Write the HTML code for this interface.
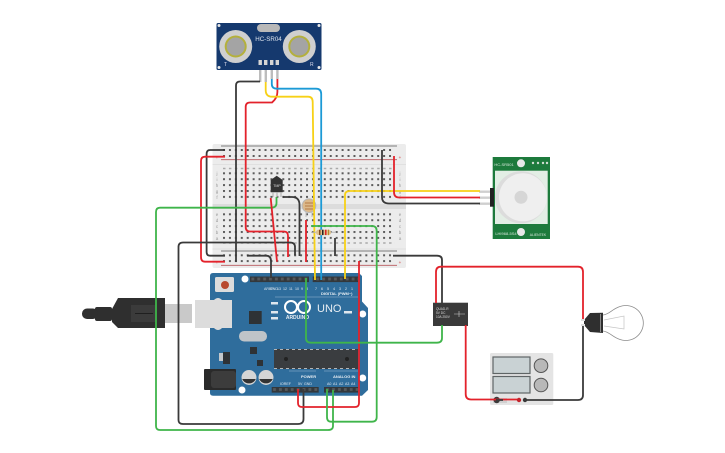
<!DOCTYPE html>
<html><head><meta charset="utf-8"><style>
html,body{margin:0;padding:0;background:#fff}
svg{display:block}
text{font-family:"Liberation Sans",sans-serif}
.w{fill:none;stroke-width:1.8;stroke-linejoin:round;stroke-linecap:butt}
.r{stroke:#e3222b}.k{stroke:#3a3a3a}.g{stroke:#3fb54a}.y{stroke:#f7d117}.b{stroke:#1c9ad6}
</style></head><body>
<svg width="725" height="453" viewBox="0 0 725 453" xmlns="http://www.w3.org/2000/svg">
<defs>
<pattern id="h1" x="222.500" y="171.800" width="5.930" height="5.900" patternUnits="userSpaceOnUse"><rect x=".5" y=".5" width="2" height="2" fill="#5c5c5c"/></pattern>
<pattern id="h2" x="222.500" y="212.800" width="5.930" height="5.900" patternUnits="userSpaceOnUse"><rect x=".5" y=".5" width="2" height="2" fill="#5c5c5c"/></pattern>
<pattern id="hr1" x="222.500" y="148.500" width="5.930" height="6" patternUnits="userSpaceOnUse"><rect x=".5" y=".5" width="2" height="2" fill="#5c5c5c"/></pattern>
<pattern id="hr2" x="222.500" y="253.800" width="5.930" height="5.800" patternUnits="userSpaceOnUse"><rect x=".5" y=".5" width="2" height="2" fill="#5c5c5c"/></pattern>
<pattern id="p" x="250" y="276" width="5.900" height="6" patternUnits="userSpaceOnUse"><rect x="1.400" y="1.600" width="2.800" height="2.800" fill="#55595c"/></pattern>
<pattern id="p2" x="271.700" y="386.500" width="5.900" height="6" patternUnits="userSpaceOnUse"><rect x="1.400" y="1.600" width="2.800" height="2.800" fill="#55595c"/></pattern>
</defs>

<!-- breadboard -->
<rect x="212.500" y="144" width="193.500" height="124" rx="2" fill="#ececec"/>
<rect x="212.500" y="204" width="193.500" height="5" fill="#dcdcdc"/>
<rect x="212.500" y="164" width="193.500" height="1" fill="#e0e0e0"/>
<rect x="212.500" y="248.500" width="193.500" height="1" fill="#e0e0e0"/>
<path d="M221 146H397M221 251H397" stroke="#555" stroke-width=".8"/>
<path d="M221 159.700H397M221 265.300H397" stroke="#b8575c" stroke-width=".8"/>
<rect x="222.500" y="148.500" width="172" height="10" fill="url(#hr1)"/>
<rect x="222.500" y="253.800" width="172" height="10" fill="url(#hr2)"/>
<rect x="222.500" y="171.800" width="172" height="28" fill="url(#h1)"/>
<rect x="222.500" y="212.800" width="172" height="28" fill="url(#h2)"/>
<path d="M223 168.500H395M223 243H395" stroke="#aaa" stroke-width="1.600" stroke-dasharray="2.500 3.430"/>
<g font-size="4.500" fill="#999" text-anchor="middle">
<text x="217" y="175">j</text><text x="217" y="181">i</text><text x="217" y="187">h</text><text x="217" y="193">g</text><text x="217" y="199">f</text>
<text x="217" y="216">e</text><text x="217" y="222">d</text><text x="217" y="228">c</text><text x="217" y="234">b</text><text x="217" y="240">a</text>
<text x="400" y="175">j</text><text x="400" y="181">i</text><text x="400" y="187">h</text><text x="400" y="193">g</text><text x="400" y="199">f</text>
<text x="400" y="216">e</text><text x="400" y="222">d</text><text x="400" y="228">c</text><text x="400" y="234">b</text><text x="400" y="240">a</text>
<text x="217" y="159" fill="#c33">+</text><text x="400" y="159" fill="#c33">+</text><text x="217" y="264" fill="#c33">+</text><text x="400" y="264" fill="#c33">+</text>
</g>

<!-- ultrasonic -->
<rect x="216.500" y="23" width="105" height="47" rx="1.500" fill="#15396e"/>
<g fill="#e8e8e8"><circle cx="219" cy="25.500" r="1.500"/><circle cx="319" cy="25.500" r="1.500"/><circle cx="219" cy="67.500" r="1.500"/><circle cx="319" cy="67.500" r="1.500"/></g>
<rect x="257" y="24" width="23" height="8" rx="4" fill="#b8b8b8"/>
<g>
<circle cx="235.700" cy="46.500" r="16.500" fill="#cfcfcf"/><circle cx="235.700" cy="46.500" r="11" fill="#b4b03c"/><circle cx="235.700" cy="46.500" r="9" fill="#a4a4a4"/>
<circle cx="299.300" cy="46.500" r="16.500" fill="#cfcfcf"/><circle cx="299.300" cy="46.500" r="11" fill="#b4b03c"/><circle cx="299.300" cy="46.500" r="9" fill="#a4a4a4"/>
</g>
<text x="268.500" y="41" font-size="6.200" fill="#dfe6ef" text-anchor="middle">HC-SR04</text>
<g fill="#d5d5d5"><rect x="258.500" y="60" width="3.400" height="5"/><rect x="264" y="60" width="3.400" height="5"/><rect x="270" y="60" width="3.400" height="5"/><rect x="275.600" y="60" width="3.400" height="5"/></g>
<g fill="#bcbcbc"><rect x="259" y="70" width="2.400" height="12"/><rect x="264.600" y="70" width="2.400" height="12"/><rect x="270.600" y="70" width="2.400" height="9"/><rect x="276.200" y="70" width="2.400" height="9"/></g>
<text x="224" y="66" font-size="5" fill="#dde">T</text><text x="310" y="66" font-size="5" fill="#dde">R</text>

<!-- usb cable -->
<rect x="164" y="304" width="28" height="19" fill="#c9c9c9"/>
<path d="M112 309L118 298H165V328H118L112 322Z" fill="#2f2f2f"/>
<rect x="95" y="307" width="17" height="14" rx="2" fill="#2f2f2f"/>
<rect x="82" y="308.500" width="16" height="10.500" rx="5" fill="#2f2f2f"/>
<rect x="131" y="305" width="24" height="17" fill="#3b3b3b"/>
<path d="M135 313.500h18" stroke="#1f1f1f" stroke-width="1"/>

<!-- arduino -->
<path d="M213 273H359L362 276V301.500L368 308V390L362 395.700H213Q210 395.700 210 393V276Q210 273 213 273Z" fill="#2f6d9c"/>
<path d="M195 300H214Q218 296 222 300H232V328H222Q218 332 214 328H195Z" fill="#dcdcdc"/>
<rect x="215" y="277" width="19" height="15" rx="1.500" fill="#dcdcdc"/><circle cx="225" cy="285" r="4" fill="#b8492e"/>
<circle cx="245" cy="279" r="3.500" fill="#fff"/><circle cx="362.700" cy="314" r="3.500" fill="#fff"/><circle cx="362.700" cy="378" r="3.500" fill="#fff"/><circle cx="242" cy="390" r="3.500" fill="#fff"/>
<rect x="250" y="276.500" width="59" height="5.600" fill="#33383c"/><rect x="250" y="276.500" width="59" height="5.600" fill="url(#p)"/>
<rect x="312.700" y="276.500" width="45.500" height="5.600" fill="#33383c"/><rect x="312.700" y="276.500" width="45.500" height="5.600" fill="url(#p)"/>
<rect x="271.700" y="387" width="47" height="5.600" fill="#33383c"/><rect x="271.700" y="387" width="47" height="5.600" fill="url(#p2)"/>
<rect x="324" y="387" width="34" height="5.600" fill="#33383c"/><rect x="324" y="387" width="34" height="5.600" fill="url(#p2)"/>
<rect x="249" y="311" width="12.700" height="13" fill="#2e3235"/>
<rect x="239" y="331" width="28" height="10.500" rx="5" fill="#bfc4c8"/>
<rect x="250" y="347" width="7" height="7" fill="#2e3235"/>
<rect x="219" y="353" width="5" height="8" fill="#c4c8cb"/><rect x="223" y="352" width="7" height="12" fill="#2e3235"/>
<rect x="257" y="360" width="6" height="6" fill="#2e3235"/>
<rect x="274" y="349" width="84" height="20" fill="#3a3d40"/>
<path d="M274 349.500H358M274 368.500H358" stroke="#ddd" stroke-width=".8" stroke-dasharray="3 3"/>
<circle cx="286" cy="359" r="2" fill="#222"/><circle cx="347" cy="359" r="2" fill="#222"/>
<rect x="204" y="369" width="32" height="21" rx="1" fill="#2a2a2a"/><rect x="211" y="371" width="25" height="17" rx="3" fill="#3c3c3c"/>
<circle cx="249" cy="377.500" r="7.500" fill="#d5d5d5"/><path d="M242.200 379A7.500 7.500 0 0 0 255.800 379Z" fill="#333"/>
<circle cx="266" cy="377.500" r="7.500" fill="#d5d5d5"/><path d="M259.200 379A7.500 7.500 0 0 0 272.800 379Z" fill="#333"/>
<g fill="none" stroke="#fff" stroke-width="2">
<circle cx="291" cy="307" r="6"/><circle cx="304" cy="307" r="6"/>
</g>
<text x="297.500" y="319" font-size="5" font-weight="bold" fill="#e8eef3" text-anchor="middle">ARDUINO</text>
<text x="317" y="312" font-size="11" fill="#e8eef3">UNO</text>
<text x="321" y="295" font-size="4" font-weight="bold" fill="#e8eef3">DIGITAL (PWM~)</text>
<text x="301" y="378" font-size="4" font-weight="bold" fill="#e8eef3">POWER</text>
<text x="333" y="378" font-size="4" font-weight="bold" fill="#e8eef3">ANALOG IN</text>
<path d="M275 297H358M289 371H316M324 371H358" stroke="#9dbcd2" stroke-width=".6"/>
<g fill="#dfe7ee"><rect x="271" y="311" width="7" height="2.500"/><rect x="271" y="317" width="7" height="2.500"/><rect x="271" y="302" width="7" height="2.500"/><rect x="344" y="311" width="8" height="2.500"/></g>
<g font-size="3.600" fill="#dfe7ee">
<text x="264" y="290">AREF</text><text x="270" y="290">GND</text>
<text x="277" y="290">13</text><text x="283" y="290">12</text><text x="289" y="290">11</text><text x="295" y="290">10</text><text x="301" y="290">9</text><text x="306" y="290">8</text>
<text x="315" y="290">7</text><text x="321" y="290">6</text><text x="327" y="290">5</text><text x="333" y="290">4</text><text x="339" y="290">3</text><text x="345" y="290">2</text><text x="351" y="290">1</text>
<text x="280" y="385">IOREF</text><text x="298" y="385">5V</text><text x="304" y="385">GND</text>
<text x="327" y="385">A0</text><text x="333" y="385">A1</text><text x="339" y="385">A2</text><text x="345" y="385">A3</text><text x="351" y="385">A4</text>
</g>

<!-- PIR -->
<rect x="492.700" y="157" width="57.300" height="82" fill="#1d7a3c"/>
<rect x="495" y="170.700" width="52.700" height="53.300" fill="#e3eee5"/>
<circle cx="521" cy="197.300" r="26" fill="#dcdcdc"/>
<circle cx="523" cy="197.300" r="24" fill="#efefef"/><circle cx="521" cy="197.300" r="6.500" fill="#d6d6d6"/>
<rect x="490" y="188" width="4" height="18.700" fill="#222"/>
<circle cx="521" cy="163.300" r="4" fill="#e8e8e8"/><circle cx="521" cy="232" r="4" fill="#e8e8e8"/>
<text x="504" y="166" font-size="4" fill="#d8e8dc" text-anchor="middle">HC-SR501</text>
<text x="506" y="235" font-size="4" fill="#d8e8dc" text-anchor="middle">LHI968-5S4</text>
<text x="538" y="236" font-size="3.400" fill="#d8e8dc" text-anchor="middle">ALIENTEK</text>
<g fill="#d0dcd2"><circle cx="533" cy="163" r="1.200"/><circle cx="538" cy="163" r="1.200"/><circle cx="543" cy="163" r="1.200"/><circle cx="547" cy="163" r="1.200"/></g>
<g fill="#cfcfcf"><rect x="479" y="190.500" width="11" height="2.400"/><rect x="479" y="196.500" width="11" height="2.400"/><rect x="479" y="202.500" width="11" height="2.400"/></g>

<!-- power supply -->
<rect x="490" y="353" width="63.300" height="52" rx="1.500" fill="#e4e4e4"/>
<rect x="493" y="357" width="37" height="16.500" fill="#c9d2d4" stroke="#5f6566" stroke-width="1.200"/>
<rect x="493" y="376.500" width="37" height="16.500" fill="#c9d2d4" stroke="#5f6566" stroke-width="1.200"/>
<circle cx="541" cy="365.700" r="6.800" fill="#b8b8b8" stroke="#555" stroke-width="1"/>
<circle cx="541" cy="385" r="6.800" fill="#b8b8b8" stroke="#555" stroke-width="1"/>
<rect x="493" y="398" width="14" height="5" fill="#d0d0d0"/>
<circle cx="496.700" cy="400" r="3.200" fill="#3a3a3a"/>

<!-- relay -->
<rect x="433" y="302.700" width="35" height="23.300" fill="#3a3a3a"/>
<text x="436" y="310" font-size="3.200" fill="#ddd">QUAD-R</text>
<text x="436" y="314" font-size="3.200" fill="#ddd">5V DC</text>
<text x="436" y="318" font-size="3.200" fill="#ddd">10A 250V</text>
<path d="M454 314h11M459 311v6" stroke="#ccc" stroke-width=".6" fill="none"/>

<!-- bulb -->
<path d="M603 315C610 314 612 309 620 306.500A17.500 17.500 0 1 1 620 339.500C612 337 610 332 603 331" fill="#fff" stroke="#8c8c8c" stroke-width=".8"/>
<path d="M604 320L624 316V329L604 326" fill="none" stroke="#c4c4c4" stroke-width=".7"/>
<path d="M584 320L590 313L603 312.700V333L590 332L584 325Z" fill="#2f2f2f"/>
<rect x="600" y="314" width="1" height="18" fill="#888"/>

<!-- thermometer -->
<path d="M270.700 180L276.700 175.700L282.700 180V192.300H270.700Z" fill="#333"/>
<text x="277" y="187" font-size="3.600" fill="#ddd" text-anchor="middle">TMP</text>
<path d="M273 192v5M277 192v5M281 192v5" stroke="#aaa" stroke-width="1"/>

<!-- LDR -->
<path d="M306 212v5M312 212v5" stroke="#bbb" stroke-width="1"/>
<circle cx="309" cy="205.700" r="6.800" fill="#dcb98b" stroke="#b8b8b8" stroke-width="1"/>
<path d="M305 203h8M305 206h8M305 209h8" stroke="#a9662f" stroke-width=".8"/>

<!-- wires -->
<g class="wires">
<path class="w k" d="M260 81.500H240Q236 81.500 236 85.500V262"/>
<path class="w r" d="M277.400 79V92Q277.400 98 272 102.500H250Q245.700 102.500 245.700 107V227Q245.700 231.500 250 231.500H284Q288 231.500 288 236V257"/>
<path class="w y" d="M265.700 82V90Q265.700 96.700 272 96.700H308Q312.700 96.700 312.700 102L315 280"/>
<path class="w b" d="M271.800 79V84Q271.800 88.700 277 88.700H316Q321.200 88.700 321.200 94V280"/>
<path class="w k" d="M225 150H210Q206.600 150 206.600 154V252Q206.600 255.700 210 255.700H225"/>
<path class="w r" d="M225 156.700H205Q201 156.700 201 161V257Q201 261.700 205 261.700H225"/>
<path class="w g" d="M276.500 197V203Q276.500 207.700 271 207.700H160Q156 207.700 156 212V426Q156 430 160 430H328Q333 430 333 426V390"/>
<path class="w k" d="M295 255.500V247Q295 242.500 290 242.500H183Q178.500 242.500 178.500 247V420Q178.500 424 183 424H298Q303.500 424 303.500 419V389"/>
<path class="w r" d="M270.700 198L277 261.700"/>
<path class="w k" d="M283 197H292Q299.500 197 299.500 205V256"/>
<path class="w r" d="M306 220V262"/>
<path class="w k" d="M335 238V256"/>
<path class="w k" d="M247 255.700H266Q271 255.700 271 261V278"/>
<path class="w r" d="M359 261V403Q359 407 355 407H302Q298 407 298 403V389"/>
<path class="w g" d="M311 226H372Q376.700 226 376.700 231V417Q376.700 421.700 372 421.700H331Q327 421.700 327 417V389"/>
<path class="w y" d="M345 279V195Q345 191 350 191H480"/>
<path class="w r" d="M394 156V192Q394 197.500 399 197.500H480"/>
<path class="w k" d="M382 150V197Q382 203.500 389 203.500H480"/>
<path class="w k" d="M393 255.700H437Q442 255.700 442 260V303"/>
<path class="w g" d="M306 278V338Q306 342.700 311 342.700H437Q442 342.700 442 338V325"/>
<path class="w r" d="M436 303V272Q436 266.700 441 266.700H578Q583 266.700 583 272V320"/>
<path class="w r" d="M465.700 325V394Q465.700 399.500 471 399.500H519"/>
<path class="w k" d="M525 400H578Q583 400 583 395V325"/>
<path class="w k" d="M496 400H503"/>
</g>
<circle cx="519" cy="400" r="2.200" fill="#c4232b"/><circle cx="525" cy="400" r="2.200" fill="#3a3a3a"/>
<rect x="581" y="319" width="4" height="2" fill="#ddd"/><rect x="581" y="324" width="4" height="2" fill="#ddd"/>

<!-- resistor, above wires -->
<path d="M311 232.300H336" stroke="#b5b5b5" stroke-width="1"/>
<rect x="316" y="229.700" width="15" height="5.400" rx="2.500" fill="#dcc08e"/>
<rect x="319" y="229.700" width="1.500" height="5.400" fill="#7a4a20"/><rect x="322" y="229.700" width="1.500" height="5.400" fill="#222"/><rect x="325" y="229.700" width="1.500" height="5.400" fill="#d22"/><rect x="328" y="229.700" width="1" height="5.400" fill="#b58a2c"/>
</svg>
</body></html>
